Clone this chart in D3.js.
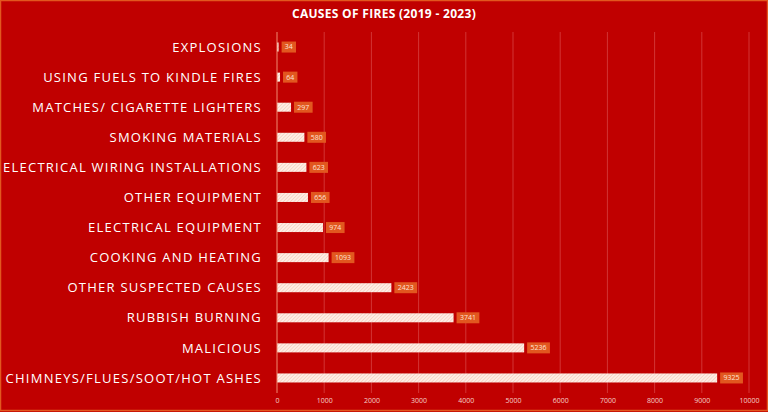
<!DOCTYPE html>
<html>
<head>
<meta charset="utf-8">
<script src="https://cdn.jsdelivr.net/npm/d3@7"></script>
<style>
  html, body { margin: 0; padding: 0; background: #c00000; }
  svg { display: block; }
</style>
</head>
<body>
<svg id="chart" width="768" height="412"></svg>
<script>
// data
const causes = [
  'EXPLOSIONS', 'USING FUELS TO KINDLE FIRES', 'MATCHES/ CIGARETTE LIGHTERS',
  'SMOKING MATERIALS', 'ELECTRICAL WIRING INSTALLATIONS', 'OTHER EQUIPMENT',
  'ELECTRICAL EQUIPMENT', 'COOKING AND HEATING', 'OTHER SUSPECTED CAUSES',
  'RUBBISH BURNING', 'MALICIOUS', 'CHIMNEYS/FLUES/SOOT/HOT ASHES'
];
const counts = [34, 64, 297, 580, 623, 656, 974, 1093, 2423, 3741, 5236, 9325];
const xTicks = [0, 1000, 2000, 3000, 4000, 5000, 6000, 7000, 8000, 9000, 10000];

const svg = d3.select('#chart');
const W = 768, H = 412;
const plot = { left: 277, right: 749, top: 32, bottom: 393 };

svg.append('rect').attr('x', 0.5).attr('y', 0.5).attr('width', W - 1).attr('height', H - 2)
  .attr('fill', '#c00000').attr('stroke', '#e2571f').attr('stroke-width', 1.5);

// hatch pattern for bars
const defs = svg.append('defs');
const pat = defs.append('pattern').attr('id', 'hatch')
  .attr('patternUnits', 'userSpaceOnUse').attr('width', 2.5).attr('height', 2.5)
  .attr('patternTransform', 'rotate(45)');
pat.append('rect').attr('width', 2.5).attr('height', 2.5).attr('fill', '#fdeee6');
pat.append('line').attr('x1', 0).attr('y1', 0).attr('x2', 0).attr('y2', 2.5)
  .attr('stroke', '#f4c2ae').attr('stroke-width', 1);

svg.append('text')
  .attr('x', 384).attr('y', 18)
  .attr('text-anchor', 'middle')
  .attr('fill', '#ffffff')
  .style('font-family', '"Open Sans", sans-serif')
  .style('font-weight', 'bold')
  .style('font-size', '12px')
  .style('letter-spacing', '0.3px')
  .text('CAUSES  OF FIRES (2019  - 2023)');

const x = d3.scaleLinear().domain([0, 10000]).range([plot.left, plot.right]);
const y = d3.scaleBand().domain(causes).range([plot.top, plot.bottom]).paddingInner(0.7).paddingOuter(0.35);

// gridlines
svg.append('g').selectAll('line').data(xTicks.slice(1)).enter().append('line')
  .attr('x1', d => x(d)).attr('x2', d => x(d))
  .attr('y1', plot.top).attr('y2', plot.bottom)
  .attr('stroke', '#d23434').attr('stroke-width', 1);

// x axis
const xAxis = svg.append('g')
  .attr('transform', `translate(0,${plot.bottom})`)
  .call(d3.axisBottom(x).tickValues(xTicks).tickSize(0).tickPadding(5).tickFormat(d3.format('d')));
xAxis.select('.domain').remove();
xAxis.selectAll('text').attr('fill', '#f5d0c8')
  .style('font-family', '"Open Sans", sans-serif').style('font-size', '7px');

// y labels
svg.append('g').selectAll('text').data(causes).enter().append('text')
  .attr('x', 262).attr('y', d => y(d) + y.bandwidth() / 2)
  .attr('dy', '0.36em')
  .attr('text-anchor', 'end')
  .attr('fill', '#ffffff')
  .style('font-family', '"Open Sans", sans-serif')
  .style('font-size', '13px')
  .style('letter-spacing', '1.25px')
  .text(d => d);

// bars
const rows = causes.map((c, i) => ({ cause: c, value: counts[i] }));
svg.append('g').selectAll('rect').data(rows).enter().append('rect')
  .attr('x', x(0)).attr('y', d => y(d.cause))
  .attr('width', d => x(d.value) - x(0))
  .attr('height', y.bandwidth())
  .attr('fill', 'url(#hatch)');

// zero axis line
svg.append('line').attr('x1', x(0)).attr('x2', x(0))
  .attr('y1', plot.top).attr('y2', plot.bottom)
  .attr('stroke', '#f08a70').attr('stroke-width', 1);

// value labels
const lab = svg.append('g').selectAll('g').data(rows).enter().append('g')
  .attr('transform', d => `translate(${x(d.value) + 3},${y(d.cause) + y.bandwidth() / 2})`);
lab.append('rect')
  .attr('x', 0).attr('y', -5.5)
  .attr('width', d => String(d.value).length * 4.2 + 6).attr('height', 11)
  .attr('fill', '#e2571f');
lab.append('text')
  .attr('x', d => (String(d.value).length * 4.2 + 6) / 2).attr('y', 0).attr('dy', '0.35em')
  .attr('text-anchor', 'middle')
  .attr('fill', '#fbe3d8')
  .style('font-family', '"Open Sans", sans-serif').style('font-size', '7px')
  .text(d => d.value);
</script>
</body>
</html>
